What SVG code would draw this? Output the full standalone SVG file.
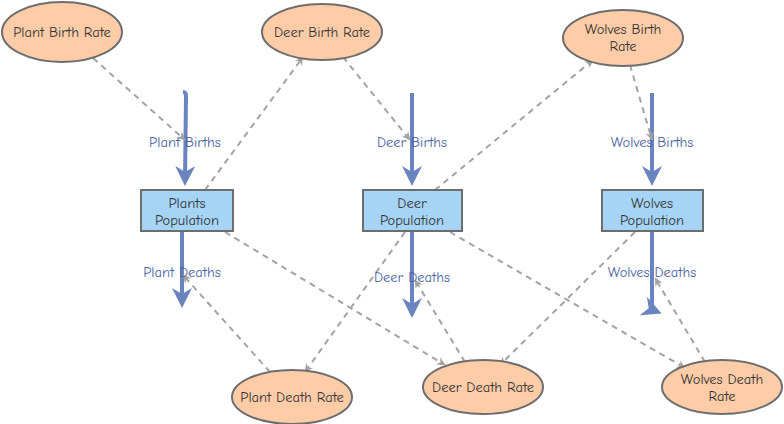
<svg xmlns="http://www.w3.org/2000/svg" width="784" height="424" viewBox="0 0 784 424">
<style>
text{font-family:"Comic Neue","Liberation Sans",sans-serif;font-size:14.5px;text-anchor:middle}
.n{fill:#333}
.f{fill:#4a62a0}
ellipse{fill:#ffcca8;stroke:#6d6d6d;stroke-width:2}
rect{fill:#a6d4f7;stroke:#6d6d6d;stroke-width:2}
.flow{stroke:#6a84bf;stroke-width:4;fill:none}
.d{stroke:#a3a3a3;stroke-width:2;stroke-dasharray:6,5;fill:none;marker-end:url(#ga)}
</style>
<defs>
<marker id="ga" viewBox="0 0 10 10" refX="9" refY="5" markerWidth="6" markerHeight="6" orient="auto" markerUnits="userSpaceOnUse" overflow="visible"><path d="M0,0 L10,5 L0,10 L3,5 Z" fill="#a3a3a3" transform="scale(1.4) translate(-3,-1.4)"/></marker>
<marker id="ba" viewBox="0 0 10 10" refX="8" refY="5" markerWidth="5" markerHeight="5" orient="auto"><path d="M0,0 L10,5 L0,10 L3,5 Z" fill="#6a84bf"/></marker>
</defs>
<g id="connectors">
<path class="flow" d="M183,92 Q186,92 186,96 L185,182" marker-end="url(#ba)"/>
<path class="flow" d="M182,232 L182,304" marker-end="url(#ba)"/>
<path class="flow" d="M412,93 L412,182" marker-end="url(#ba)"/>
<path class="flow" d="M412,232 L412,314" marker-end="url(#ba)"/>
<path class="flow" d="M652,93 L652,182" marker-end="url(#ba)"/>
<path class="flow" d="M652,232 L652,306 Q653,310 658,312" marker-end="url(#ba)"/>
<path class="d" d="M93,58 L185,140"/>
<path class="d" d="M205,190 L303,57"/>
<path class="d" d="M343,57 L410,140"/>
<path class="d" d="M435,190 L593,60"/>
<path class="d" d="M630,65 L652,140"/>
<path class="d" d="M225,232 L445,365"/>
<path class="d" d="M405,232 L305,372"/>
<path class="d" d="M270,372 L183,275"/>
<path class="d" d="M450,232 L685,368"/>
<path class="d" d="M465,362 L415,280"/>
<path class="d" d="M635,232 L500,365"/>
<path class="d" d="M705,362 L655,278"/>
<text class="f" x="185" y="147">Plant Births</text>
<text class="f" x="182" y="277">Plant Deaths</text>
<text class="f" x="412" y="147">Deer Births</text>
<text class="f" x="412" y="282">Deer Deaths</text>
<text class="f" x="652" y="147">Wolves Births</text>
<text class="f" x="652" y="277">Wolves Deaths</text>
</g>
<g id="plantBirthRate"><ellipse cx="62" cy="32" rx="60" ry="30"/><text class="n" x="62" y="37">Plant Birth Rate</text></g>
<g id="deerBirthRate"><ellipse cx="322" cy="32" rx="60" ry="28"/><text class="n" x="322" y="37">Deer Birth Rate</text></g>
<g id="wolvesBirthRate"><ellipse cx="623" cy="38" rx="60" ry="28"/><text class="n" x="623" y="34">Wolves Birth</text><text class="n" x="623" y="51">Rate</text></g>
<g id="plantsPopulation"><rect x="141" y="190" width="92" height="41"/><text class="n" x="187" y="208">Plants</text><text class="n" x="187" y="225">Population</text></g>
<g id="deerPopulation"><rect x="363" y="190" width="99" height="41"/><text class="n" x="412" y="208">Deer</text><text class="n" x="412" y="225">Population</text></g>
<g id="wolvesPopulation"><rect x="602" y="190" width="101" height="41"/><text class="n" x="652" y="208">Wolves</text><text class="n" x="652" y="225">Population</text></g>
<g id="plantDeathRate"><ellipse cx="292" cy="397" rx="60" ry="27"/><text class="n" x="292" y="402">Plant Death Rate</text></g>
<g id="deerDeathRate"><ellipse cx="483" cy="387" rx="60" ry="27"/><text class="n" x="483" y="392">Deer Death Rate</text></g>
<g id="wolvesDeathRate"><ellipse cx="722" cy="387" rx="60" ry="27"/><text class="n" x="722" y="384">Wolves Death</text><text class="n" x="722" y="401">Rate</text></g>
</svg>
